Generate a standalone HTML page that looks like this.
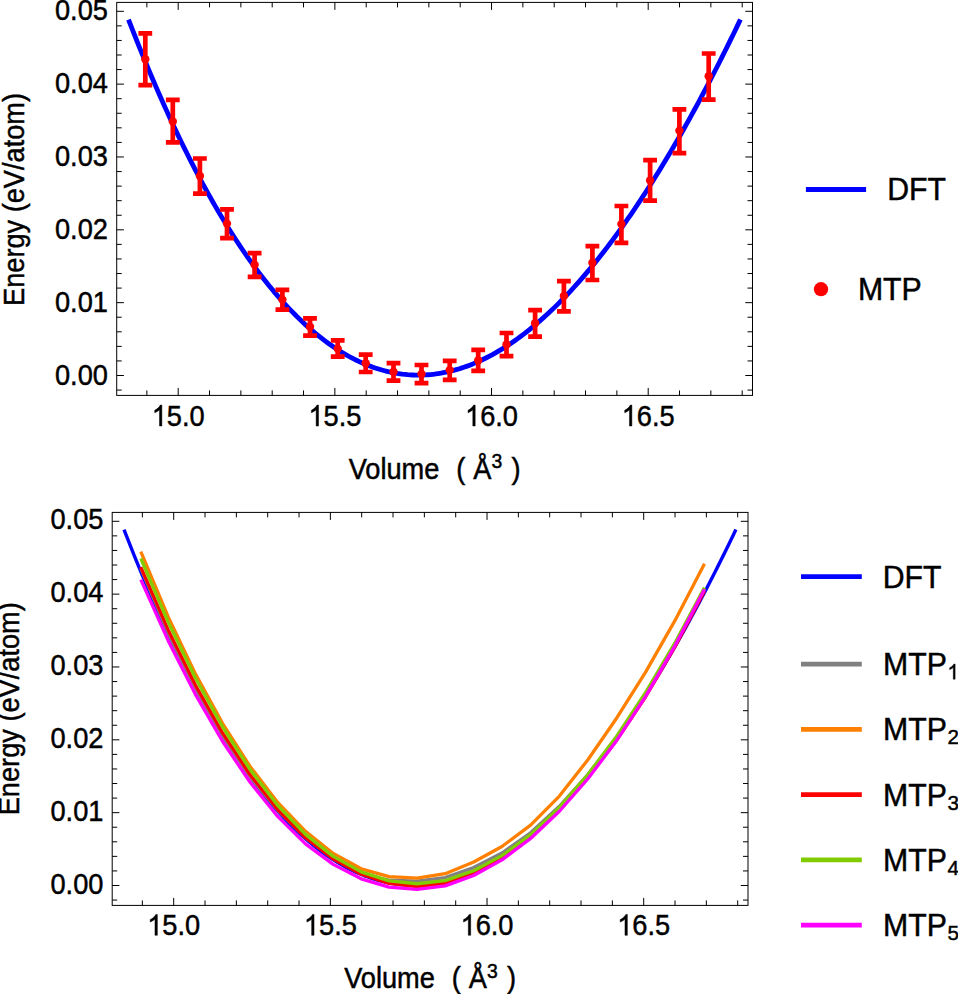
<!DOCTYPE html>
<html><head><meta charset="utf-8"><style>
html,body{margin:0;padding:0;background:#fff;overflow:hidden}
svg{display:block}
</style></head><body>
<svg width="958" height="994" viewBox="0 0 958 994" font-family='"Liberation Sans", sans-serif' fill="#000">
<rect width="958" height="994" fill="#fff"/>
<g>
<rect x="116.7" y="2.4" width="635.80" height="393.00" fill="none" stroke="#000" stroke-width="1"/>
<path d="M146.87,395.4v-5.0M146.87,2.4v5.0M178.20,395.4v-7.5M178.20,2.4v7.5M209.53,395.4v-5.0M209.53,2.4v5.0M240.87,395.4v-5.0M240.87,2.4v5.0M272.20,395.4v-5.0M272.20,2.4v5.0M303.53,395.4v-5.0M303.53,2.4v5.0M334.87,395.4v-7.5M334.87,2.4v7.5M366.20,395.4v-5.0M366.20,2.4v5.0M397.53,395.4v-5.0M397.53,2.4v5.0M428.86,395.4v-5.0M428.86,2.4v5.0M460.20,395.4v-5.0M460.20,2.4v5.0M491.53,395.4v-7.5M491.53,2.4v7.5M522.86,395.4v-5.0M522.86,2.4v5.0M554.20,395.4v-5.0M554.20,2.4v5.0M585.53,395.4v-5.0M585.53,2.4v5.0M616.86,395.4v-5.0M616.86,2.4v5.0M648.19,395.4v-7.5M648.19,2.4v7.5M679.53,395.4v-5.0M679.53,2.4v5.0M710.86,395.4v-5.0M710.86,2.4v5.0M742.19,395.4v-5.0M742.19,2.4v5.0M116.7,390.07h5.0M752.5,390.07h-5.0M116.7,375.50h7.2M752.5,375.50h-7.2M116.7,360.93h5.0M752.5,360.93h-5.0M116.7,346.36h5.0M752.5,346.36h-5.0M116.7,331.80h5.0M752.5,331.80h-5.0M116.7,317.23h5.0M752.5,317.23h-5.0M116.7,302.66h7.2M752.5,302.66h-7.2M116.7,288.09h5.0M752.5,288.09h-5.0M116.7,273.52h5.0M752.5,273.52h-5.0M116.7,258.96h5.0M752.5,258.96h-5.0M116.7,244.39h5.0M752.5,244.39h-5.0M116.7,229.82h7.2M752.5,229.82h-7.2M116.7,215.25h5.0M752.5,215.25h-5.0M116.7,200.68h5.0M752.5,200.68h-5.0M116.7,186.12h5.0M752.5,186.12h-5.0M116.7,171.55h5.0M752.5,171.55h-5.0M116.7,156.98h7.2M752.5,156.98h-7.2M116.7,142.41h5.0M752.5,142.41h-5.0M116.7,127.84h5.0M752.5,127.84h-5.0M116.7,113.28h5.0M752.5,113.28h-5.0M116.7,98.71h5.0M752.5,98.71h-5.0M116.7,84.14h7.2M752.5,84.14h-7.2M116.7,69.57h5.0M752.5,69.57h-5.0M116.7,55.00h5.0M752.5,55.00h-5.0M116.7,40.44h5.0M752.5,40.44h-5.0M116.7,25.87h5.0M752.5,25.87h-5.0M116.7,11.30h7.2M752.5,11.30h-7.2" stroke="#000" stroke-width="1" fill="none"/>
<g stroke="#000" stroke-width="0.45" transform="translate(0,0.0)">
<g transform="translate(107.90,384.70) scale(1,1.07)"><text x="0" y="0" font-size="27.2" text-anchor="end">0.00</text></g>
<g transform="translate(107.90,311.66) scale(1,1.07)"><text x="0" y="0" font-size="27.2" text-anchor="end">0.01</text></g>
<g transform="translate(107.90,238.62) scale(1,1.07)"><text x="0" y="0" font-size="27.2" text-anchor="end">0.02</text></g>
<g transform="translate(107.90,165.58) scale(1,1.07)"><text x="0" y="0" font-size="27.2" text-anchor="end">0.03</text></g>
<g transform="translate(107.90,92.54) scale(1,1.07)"><text x="0" y="0" font-size="27.2" text-anchor="end">0.04</text></g>
<g transform="translate(107.90,19.50) scale(1,1.07)"><text x="0" y="0" font-size="27.2" text-anchor="end">0.05</text></g>
<path transform="translate(151.73,426.00) scale(0.01328,-0.01421)" d="M763 0H583V1147Q518 1085 413 1023Q308 961 224 930V1104Q375 1175 488 1276Q601 1377 648 1472H763Z" stroke-width="33.9"/><g transform="translate(166.86,426.00) scale(1,1.07)"><text x="0" y="0" font-size="27.2">5.0</text></g>
<path transform="translate(308.40,426.00) scale(0.01328,-0.01421)" d="M763 0H583V1147Q518 1085 413 1023Q308 961 224 930V1104Q375 1175 488 1276Q601 1377 648 1472H763Z" stroke-width="33.9"/><g transform="translate(323.52,426.00) scale(1,1.07)"><text x="0" y="0" font-size="27.2">5.5</text></g>
<path transform="translate(465.06,426.00) scale(0.01328,-0.01421)" d="M763 0H583V1147Q518 1085 413 1023Q308 961 224 930V1104Q375 1175 488 1276Q601 1377 648 1472H763Z" stroke-width="33.9"/><g transform="translate(480.19,426.00) scale(1,1.07)"><text x="0" y="0" font-size="27.2">6.0</text></g>
<path transform="translate(621.73,426.00) scale(0.01328,-0.01421)" d="M763 0H583V1147Q518 1085 413 1023Q308 961 224 930V1104Q375 1175 488 1276Q601 1377 648 1472H763Z" stroke-width="33.9"/><g transform="translate(636.85,426.00) scale(1,1.07)"><text x="0" y="0" font-size="27.2">6.5</text></g>
<g transform="translate(23.7,306.0) rotate(-90) scale(1,1.07)"><text x="0" y="0" font-size="27.2">Energy (eV/atom)</text></g>
<g transform="translate(348.70,478.70) scale(1,1.07)"><text x="0" y="0" font-size="27.2" text-anchor="start">Volume</text></g>
<g transform="translate(456.20,478.70) scale(1,1.07)"><text x="0" y="0" font-size="27.2" text-anchor="start">(</text></g>
<g transform="translate(473.20,478.70) scale(1,1.07)"><text x="0" y="0" font-size="27.2" text-anchor="start">&#197;</text></g>
<g transform="translate(491.40,468.30) scale(1,1.07)"><text x="0" y="0" font-size="19.4" text-anchor="start">3</text></g>
<g transform="translate(511.50,478.70) scale(1,1.07)"><text x="0" y="0" font-size="27.2" text-anchor="start">)</text></g>
</g>
<polyline points="128.50,19.59 131.06,26.17 133.62,32.69 136.18,39.15 138.74,45.53 141.30,51.85 143.86,58.10 146.42,64.29 148.98,70.40 151.54,76.45 154.10,82.44 156.66,88.36 159.22,94.21 161.78,100.00 164.34,105.72 166.90,111.37 169.46,116.97 172.02,122.49 174.58,127.95 177.14,133.35 179.71,138.68 182.27,143.95 184.83,149.15 187.39,154.29 189.95,159.36 192.51,164.37 195.07,169.32 197.63,174.21 200.19,179.03 202.75,183.79 205.31,188.48 207.87,193.12 210.43,197.69 212.99,202.19 215.55,206.64 218.11,211.02 220.67,215.35 223.23,219.61 225.79,223.81 228.35,227.94 230.91,232.02 233.47,236.04 236.03,239.99 238.59,243.89 241.15,247.72 243.71,251.49 246.27,255.21 248.83,258.86 251.39,262.46 253.95,265.99 256.51,269.46 259.07,272.88 261.63,276.24 264.19,279.53 266.75,282.77 269.31,285.95 271.87,289.07 274.43,292.13 276.99,295.14 279.55,298.08 282.12,300.97 284.68,303.80 287.24,306.58 289.80,309.29 292.36,311.95 294.92,314.55 297.48,317.10 300.04,319.58 302.60,322.01 305.16,324.39 307.72,326.71 310.28,328.97 312.84,331.17 315.40,333.32 317.96,335.42 320.52,337.45 323.08,339.44 325.64,341.37 328.20,343.24 330.76,345.05 333.32,346.82 335.88,348.52 338.44,350.18 341.00,351.78 343.56,353.32 346.12,354.81 348.68,356.25 351.24,357.63 353.80,358.96 356.36,360.23 358.92,361.46 361.48,362.62 364.04,363.74 366.60,364.80 369.16,365.81 371.72,366.77 374.28,367.67 376.84,368.52 379.40,369.32 381.96,370.07 384.53,370.77 387.09,371.41 389.65,372.00 392.21,372.54 394.77,373.03 397.33,373.47 399.89,373.85 402.45,374.19 405.01,374.47 407.57,374.71 410.13,374.89 412.69,375.02 415.25,375.10 417.81,375.14 420.37,375.12 422.93,375.05 425.49,374.93 428.05,374.76 430.61,374.55 433.17,374.28 435.73,373.97 438.29,373.60 440.85,373.19 443.41,372.72 445.97,372.21 448.53,371.65 451.09,371.04 453.65,370.39 456.21,369.68 458.77,368.93 461.33,368.13 463.89,367.28 466.45,366.38 469.01,365.43 471.57,364.44 474.13,363.40 476.69,362.32 479.25,361.18 481.81,360.00 484.37,358.77 486.94,357.50 489.50,356.18 492.06,354.81 494.62,353.40 497.18,351.94 499.74,350.43 502.30,348.88 504.86,347.28 507.42,345.64 509.98,343.95 512.54,342.21 515.10,340.43 517.66,338.61 520.22,336.74 522.78,334.82 525.34,332.86 527.90,330.86 530.46,328.81 533.02,326.71 535.58,324.58 538.14,322.39 540.70,320.17 543.26,317.89 545.82,315.58 548.38,313.22 550.94,310.82 553.50,308.37 556.06,305.88 558.62,303.35 561.18,300.77 563.74,298.15 566.30,295.49 568.86,292.79 571.42,290.04 573.98,287.25 576.54,284.42 579.10,281.54 581.66,278.62 584.22,275.66 586.78,272.66 589.35,269.62 591.91,266.53 594.47,263.40 597.03,260.23 599.59,257.02 602.15,253.77 604.71,250.47 607.27,247.14 609.83,243.76 612.39,240.35 614.95,236.89 617.51,233.39 620.07,229.85 622.63,226.27 625.19,222.65 627.75,218.99 630.31,215.29 632.87,211.55 635.43,207.77 637.99,203.95 640.55,200.08 643.11,196.18 645.67,192.24 648.23,188.26 650.79,184.25 653.35,180.19 655.91,176.09 658.47,171.95 661.03,167.78 663.59,163.56 666.15,159.31 668.71,155.02 671.27,150.69 673.83,146.32 676.39,141.91 678.95,137.47 681.51,132.98 684.07,128.46 686.63,123.90 689.19,119.31 691.76,114.67 694.32,110.00 696.88,105.29 699.44,100.54 702.00,95.75 704.56,90.93 707.12,86.07 709.68,81.18 712.24,76.24 714.80,71.27 717.36,66.27 719.92,61.22 722.48,56.14 725.04,51.03 727.60,45.87 730.16,40.68 732.72,35.46 735.28,30.20 737.84,24.90 740.40,19.57" fill="none" stroke="#0000ff" stroke-width="4.8" stroke-linejoin="round"/>
<path d="M145.30,33.40V85.10M138.40,33.40h13.8M138.40,85.10h13.8M172.80,99.90V142.30M165.90,99.90h13.8M165.90,142.30h13.8M199.90,158.50V193.60M193.00,158.50h13.8M193.00,193.60h13.8M227.00,209.40V238.10M220.10,209.40h13.8M220.10,238.10h13.8M254.60,253.20V276.80M247.70,253.20h13.8M247.70,276.80h13.8M282.40,289.80V309.60M275.50,289.80h13.8M275.50,309.60h13.8M310.00,318.40V335.70M303.10,318.40h13.8M303.10,335.70h13.8M337.70,340.30V356.60M330.80,340.30h13.8M330.80,356.60h13.8M365.70,354.60V372.00M358.80,354.60h13.8M358.80,372.00h13.8M393.50,363.20V380.60M386.60,363.20h13.8M386.60,380.60h13.8M421.50,365.00V383.20M414.60,365.00h13.8M414.60,383.20h13.8M449.70,360.85V379.90M442.80,360.85h13.8M442.80,379.90h13.8M478.20,349.80V370.85M471.30,349.80h13.8M471.30,370.85h13.8M506.50,333.00V356.20M499.60,333.00h13.8M499.60,356.20h13.8M535.10,310.20V336.70M528.20,310.20h13.8M528.20,336.70h13.8M563.90,281.20V311.40M557.00,281.20h13.8M557.00,311.40h13.8M592.40,246.20V280.00M585.50,246.20h13.8M585.50,280.00h13.8M621.40,206.00V242.80M614.50,206.00h13.8M614.50,242.80h13.8M650.10,160.10V200.60M643.20,160.10h13.8M643.20,200.60h13.8M679.40,109.40V153.20M672.50,109.40h13.8M672.50,153.20h13.8M708.70,53.50V99.60M701.80,53.50h13.8M701.80,99.60h13.8" stroke="#f00" stroke-width="4.7" fill="none"/>
<circle cx="145.30" cy="59.24" r="4.2" fill="#f00"/>
<circle cx="172.80" cy="121.40" r="4.2" fill="#f00"/>
<circle cx="199.90" cy="176.00" r="4.2" fill="#f00"/>
<circle cx="227.00" cy="223.60" r="4.2" fill="#f00"/>
<circle cx="254.60" cy="264.70" r="4.2" fill="#f00"/>
<circle cx="282.40" cy="299.60" r="4.2" fill="#f00"/>
<circle cx="310.00" cy="326.70" r="4.2" fill="#f00"/>
<circle cx="337.70" cy="348.60" r="4.2" fill="#f00"/>
<circle cx="365.70" cy="363.30" r="4.2" fill="#f00"/>
<circle cx="393.50" cy="371.70" r="4.2" fill="#f00"/>
<circle cx="421.50" cy="374.00" r="4.2" fill="#f00"/>
<circle cx="449.70" cy="370.10" r="4.2" fill="#f00"/>
<circle cx="478.20" cy="360.35" r="4.2" fill="#f00"/>
<circle cx="506.50" cy="344.50" r="4.2" fill="#f00"/>
<circle cx="535.10" cy="323.20" r="4.2" fill="#f00"/>
<circle cx="563.90" cy="296.00" r="4.2" fill="#f00"/>
<circle cx="592.40" cy="262.80" r="4.2" fill="#f00"/>
<circle cx="621.40" cy="224.10" r="4.2" fill="#f00"/>
<circle cx="650.10" cy="180.40" r="4.2" fill="#f00"/>
<circle cx="679.40" cy="130.60" r="4.2" fill="#f00"/>
<circle cx="708.70" cy="76.30" r="4.2" fill="#f00"/>
</g>
<line x1="805.9" y1="189.45" x2="866.1" y2="189.45" stroke="#0000ff" stroke-width="4.9"/>
<g stroke="#000" stroke-width="0.45">
<g transform="translate(887.20,200.00) scale(1,1.02)"><text x="0" y="0" font-size="30.25" text-anchor="start">DFT</text></g>
<g transform="translate(857.90,300.06) scale(1,1.02)"><text x="0" y="0" font-size="30.25" text-anchor="start">MTP</text></g>
</g>
<circle cx="821.0" cy="289.2" r="7.15" fill="#f00"/>
<g transform="translate(-4.5,510)">
<rect x="116.7" y="2.4" width="635.80" height="393.00" fill="none" stroke="#000" stroke-width="1"/>
<path d="M146.87,395.4v-5.0M146.87,2.4v5.0M178.20,395.4v-7.5M178.20,2.4v7.5M209.53,395.4v-5.0M209.53,2.4v5.0M240.87,395.4v-5.0M240.87,2.4v5.0M272.20,395.4v-5.0M272.20,2.4v5.0M303.53,395.4v-5.0M303.53,2.4v5.0M334.87,395.4v-7.5M334.87,2.4v7.5M366.20,395.4v-5.0M366.20,2.4v5.0M397.53,395.4v-5.0M397.53,2.4v5.0M428.86,395.4v-5.0M428.86,2.4v5.0M460.20,395.4v-5.0M460.20,2.4v5.0M491.53,395.4v-7.5M491.53,2.4v7.5M522.86,395.4v-5.0M522.86,2.4v5.0M554.20,395.4v-5.0M554.20,2.4v5.0M585.53,395.4v-5.0M585.53,2.4v5.0M616.86,395.4v-5.0M616.86,2.4v5.0M648.19,395.4v-7.5M648.19,2.4v7.5M679.53,395.4v-5.0M679.53,2.4v5.0M710.86,395.4v-5.0M710.86,2.4v5.0M742.19,395.4v-5.0M742.19,2.4v5.0M116.7,390.07h5.0M752.5,390.07h-5.0M116.7,375.50h7.2M752.5,375.50h-7.2M116.7,360.93h5.0M752.5,360.93h-5.0M116.7,346.36h5.0M752.5,346.36h-5.0M116.7,331.80h5.0M752.5,331.80h-5.0M116.7,317.23h5.0M752.5,317.23h-5.0M116.7,302.66h7.2M752.5,302.66h-7.2M116.7,288.09h5.0M752.5,288.09h-5.0M116.7,273.52h5.0M752.5,273.52h-5.0M116.7,258.96h5.0M752.5,258.96h-5.0M116.7,244.39h5.0M752.5,244.39h-5.0M116.7,229.82h7.2M752.5,229.82h-7.2M116.7,215.25h5.0M752.5,215.25h-5.0M116.7,200.68h5.0M752.5,200.68h-5.0M116.7,186.12h5.0M752.5,186.12h-5.0M116.7,171.55h5.0M752.5,171.55h-5.0M116.7,156.98h7.2M752.5,156.98h-7.2M116.7,142.41h5.0M752.5,142.41h-5.0M116.7,127.84h5.0M752.5,127.84h-5.0M116.7,113.28h5.0M752.5,113.28h-5.0M116.7,98.71h5.0M752.5,98.71h-5.0M116.7,84.14h7.2M752.5,84.14h-7.2M116.7,69.57h5.0M752.5,69.57h-5.0M116.7,55.00h5.0M752.5,55.00h-5.0M116.7,40.44h5.0M752.5,40.44h-5.0M116.7,25.87h5.0M752.5,25.87h-5.0M116.7,11.30h7.2M752.5,11.30h-7.2" stroke="#000" stroke-width="1" fill="none"/>
<g stroke="#000" stroke-width="0.45" transform="translate(0,-0.7)">
<g transform="translate(107.90,384.70) scale(1,1.07)"><text x="0" y="0" font-size="27.2" text-anchor="end">0.00</text></g>
<g transform="translate(107.90,311.66) scale(1,1.07)"><text x="0" y="0" font-size="27.2" text-anchor="end">0.01</text></g>
<g transform="translate(107.90,238.62) scale(1,1.07)"><text x="0" y="0" font-size="27.2" text-anchor="end">0.02</text></g>
<g transform="translate(107.90,165.58) scale(1,1.07)"><text x="0" y="0" font-size="27.2" text-anchor="end">0.03</text></g>
<g transform="translate(107.90,92.54) scale(1,1.07)"><text x="0" y="0" font-size="27.2" text-anchor="end">0.04</text></g>
<g transform="translate(107.90,19.50) scale(1,1.07)"><text x="0" y="0" font-size="27.2" text-anchor="end">0.05</text></g>
<path transform="translate(151.73,426.00) scale(0.01328,-0.01421)" d="M763 0H583V1147Q518 1085 413 1023Q308 961 224 930V1104Q375 1175 488 1276Q601 1377 648 1472H763Z" stroke-width="33.9"/><g transform="translate(166.86,426.00) scale(1,1.07)"><text x="0" y="0" font-size="27.2">5.0</text></g>
<path transform="translate(308.40,426.00) scale(0.01328,-0.01421)" d="M763 0H583V1147Q518 1085 413 1023Q308 961 224 930V1104Q375 1175 488 1276Q601 1377 648 1472H763Z" stroke-width="33.9"/><g transform="translate(323.52,426.00) scale(1,1.07)"><text x="0" y="0" font-size="27.2">5.5</text></g>
<path transform="translate(465.06,426.00) scale(0.01328,-0.01421)" d="M763 0H583V1147Q518 1085 413 1023Q308 961 224 930V1104Q375 1175 488 1276Q601 1377 648 1472H763Z" stroke-width="33.9"/><g transform="translate(480.19,426.00) scale(1,1.07)"><text x="0" y="0" font-size="27.2">6.0</text></g>
<path transform="translate(621.73,426.00) scale(0.01328,-0.01421)" d="M763 0H583V1147Q518 1085 413 1023Q308 961 224 930V1104Q375 1175 488 1276Q601 1377 648 1472H763Z" stroke-width="33.9"/><g transform="translate(636.85,426.00) scale(1,1.07)"><text x="0" y="0" font-size="27.2">6.5</text></g>
<g transform="translate(23.7,306.0) rotate(-90) scale(1,1.07)"><text x="0" y="0" font-size="27.2">Energy (eV/atom)</text></g>
<g transform="translate(348.70,478.70) scale(1,1.07)"><text x="0" y="0" font-size="27.2" text-anchor="start">Volume</text></g>
<g transform="translate(456.20,478.70) scale(1,1.07)"><text x="0" y="0" font-size="27.2" text-anchor="start">(</text></g>
<g transform="translate(473.20,478.70) scale(1,1.07)"><text x="0" y="0" font-size="27.2" text-anchor="start">&#197;</text></g>
<g transform="translate(491.40,468.30) scale(1,1.07)"><text x="0" y="0" font-size="19.4" text-anchor="start">3</text></g>
<g transform="translate(511.50,478.70) scale(1,1.07)"><text x="0" y="0" font-size="27.2" text-anchor="start">)</text></g>
</g>
<polyline points="128.50,19.59 131.06,26.17 133.62,32.69 136.18,39.15 138.74,45.53 141.30,51.85 143.86,58.10 146.42,64.29 148.98,70.40 151.54,76.45 154.10,82.44 156.66,88.36 159.22,94.21 161.78,100.00 164.34,105.72 166.90,111.37 169.46,116.97 172.02,122.49 174.58,127.95 177.14,133.35 179.71,138.68 182.27,143.95 184.83,149.15 187.39,154.29 189.95,159.36 192.51,164.37 195.07,169.32 197.63,174.21 200.19,179.03 202.75,183.79 205.31,188.48 207.87,193.12 210.43,197.69 212.99,202.19 215.55,206.64 218.11,211.02 220.67,215.35 223.23,219.61 225.79,223.81 228.35,227.94 230.91,232.02 233.47,236.04 236.03,239.99 238.59,243.89 241.15,247.72 243.71,251.49 246.27,255.21 248.83,258.86 251.39,262.46 253.95,265.99 256.51,269.46 259.07,272.88 261.63,276.24 264.19,279.53 266.75,282.77 269.31,285.95 271.87,289.07 274.43,292.13 276.99,295.14 279.55,298.08 282.12,300.97 284.68,303.80 287.24,306.58 289.80,309.29 292.36,311.95 294.92,314.55 297.48,317.10 300.04,319.58 302.60,322.01 305.16,324.39 307.72,326.71 310.28,328.97 312.84,331.17 315.40,333.32 317.96,335.42 320.52,337.45 323.08,339.44 325.64,341.37 328.20,343.24 330.76,345.05 333.32,346.82 335.88,348.52 338.44,350.18 341.00,351.78 343.56,353.32 346.12,354.81 348.68,356.25 351.24,357.63 353.80,358.96 356.36,360.23 358.92,361.46 361.48,362.62 364.04,363.74 366.60,364.80 369.16,365.81 371.72,366.77 374.28,367.67 376.84,368.52 379.40,369.32 381.96,370.07 384.53,370.77 387.09,371.41 389.65,372.00 392.21,372.54 394.77,373.03 397.33,373.47 399.89,373.85 402.45,374.19 405.01,374.47 407.57,374.71 410.13,374.89 412.69,375.02 415.25,375.10 417.81,375.14 420.37,375.12 422.93,375.05 425.49,374.93 428.05,374.76 430.61,374.55 433.17,374.28 435.73,373.97 438.29,373.60 440.85,373.19 443.41,372.72 445.97,372.21 448.53,371.65 451.09,371.04 453.65,370.39 456.21,369.68 458.77,368.93 461.33,368.13 463.89,367.28 466.45,366.38 469.01,365.43 471.57,364.44 474.13,363.40 476.69,362.32 479.25,361.18 481.81,360.00 484.37,358.77 486.94,357.50 489.50,356.18 492.06,354.81 494.62,353.40 497.18,351.94 499.74,350.43 502.30,348.88 504.86,347.28 507.42,345.64 509.98,343.95 512.54,342.21 515.10,340.43 517.66,338.61 520.22,336.74 522.78,334.82 525.34,332.86 527.90,330.86 530.46,328.81 533.02,326.71 535.58,324.58 538.14,322.39 540.70,320.17 543.26,317.89 545.82,315.58 548.38,313.22 550.94,310.82 553.50,308.37 556.06,305.88 558.62,303.35 561.18,300.77 563.74,298.15 566.30,295.49 568.86,292.79 571.42,290.04 573.98,287.25 576.54,284.42 579.10,281.54 581.66,278.62 584.22,275.66 586.78,272.66 589.35,269.62 591.91,266.53 594.47,263.40 597.03,260.23 599.59,257.02 602.15,253.77 604.71,250.47 607.27,247.14 609.83,243.76 612.39,240.35 614.95,236.89 617.51,233.39 620.07,229.85 622.63,226.27 625.19,222.65 627.75,218.99 630.31,215.29 632.87,211.55 635.43,207.77 637.99,203.95 640.55,200.08 643.11,196.18 645.67,192.24 648.23,188.26 650.79,184.25 653.35,180.19 655.91,176.09 658.47,171.95 661.03,167.78 663.59,163.56 666.15,159.31 668.71,155.02 671.27,150.69 673.83,146.32 676.39,141.91 678.95,137.47 681.51,132.98 684.07,128.46 686.63,123.90 689.19,119.31 691.76,114.67 694.32,110.00 696.88,105.29 699.44,100.54 702.00,95.75 704.56,90.93 707.12,86.07 709.68,81.18 712.24,76.24 714.80,71.27 717.36,66.27 719.92,61.22 722.48,56.14 725.04,51.03 727.60,45.87 730.16,40.68 732.72,35.46 735.28,30.20 737.84,24.90 740.40,19.57" fill="none" stroke="#0000ff" stroke-width="3.4" stroke-linejoin="round"/>
<polyline points="145.30,58.32 172.80,123.37 199.90,179.28 227.00,227.04 254.60,267.31 282.40,300.56 310.00,327.76 337.70,348.70 365.70,363.40 393.50,370.24 421.50,371.06 449.70,367.56 478.20,357.57 506.50,342.99 535.10,322.80 563.90,296.27 592.40,264.56 621.40,226.82 650.10,183.92 679.40,134.48 709.00,79.08" fill="none" stroke="#808080" stroke-width="3.3" stroke-linejoin="round"/>
<polyline points="145.30,41.73 172.80,107.09 199.90,163.91 227.00,213.38 254.60,256.51 282.40,292.66 310.00,321.41 337.70,343.57 365.70,358.80 393.50,366.68 421.50,368.16 449.70,363.66 478.20,351.97 506.50,336.48 535.10,315.18 563.90,286.06 592.40,249.73 621.40,207.73 650.10,162.10 679.40,110.64 709.00,53.83" fill="none" stroke="#ff8000" stroke-width="3.3" stroke-linejoin="round"/>
<polyline points="145.30,57.09 172.80,120.19 199.90,175.09 227.00,222.96 254.60,264.74 282.40,299.82 310.00,327.73 337.70,349.05 365.70,364.22 393.50,373.43 421.50,376.56 449.70,373.26 478.20,363.67 506.50,347.99 535.10,326.49 563.90,299.59 592.40,267.65 621.40,229.82 650.10,186.75 679.40,136.91 709.00,81.08" fill="none" stroke="#ff0000" stroke-width="3.3" stroke-linejoin="round"/>
<polyline points="145.30,48.50 172.80,112.36 199.90,168.06 227.00,216.77 254.60,259.56 282.40,295.66 310.00,324.35 337.70,346.36 365.70,361.92 393.50,370.90 421.50,373.76 449.70,370.66 478.20,360.77 506.50,345.59 535.10,324.59 563.90,297.34 592.40,264.61 621.40,225.92 650.10,182.49 679.40,132.91 709.00,77.63" fill="none" stroke="#80cc00" stroke-width="3.3" stroke-linejoin="round"/>
<polyline points="145.30,69.56 172.80,130.92 199.90,184.37 227.00,231.25 254.60,272.29 282.40,306.68 310.00,333.95 337.70,354.40 365.70,368.80 393.50,377.16 421.50,379.46 449.70,375.86 478.20,365.47 506.50,349.87 535.10,328.48 563.90,301.22 592.40,268.75 621.40,230.22 650.10,186.41 679.40,135.83 709.00,79.18" fill="none" stroke="#ff00ff" stroke-width="3.3" stroke-linejoin="round"/>
</g>
<line x1="801.0" y1="576.7" x2="861.8" y2="576.7" stroke="#0000ff" stroke-width="4.7"/>
<line x1="801.0" y1="664.10" x2="861.8" y2="664.10" stroke="#808080" stroke-width="4.7"/>
<line x1="801.0" y1="729.35" x2="861.8" y2="729.35" stroke="#ff8000" stroke-width="4.7"/>
<line x1="801.0" y1="794.60" x2="861.8" y2="794.60" stroke="#ff0000" stroke-width="4.7"/>
<line x1="801.0" y1="859.85" x2="861.8" y2="859.85" stroke="#80cc00" stroke-width="4.7"/>
<line x1="801.0" y1="925.10" x2="861.8" y2="925.10" stroke="#ff00ff" stroke-width="4.7"/>
<g stroke="#000" stroke-width="0.45">
<g transform="translate(882.65,587.70) scale(1,1.02)"><text x="0" y="0" font-size="30.25" text-anchor="start">DFT</text></g>
<g transform="translate(883.00,675.20) scale(1,1.02)"><text x="0" y="0" font-size="30.25" text-anchor="start">MTP</text></g>
<path transform="translate(947.40,679.20) scale(0.01011,-0.01031)" d="M763 0H583V1147Q518 1085 413 1023Q308 961 224 930V1104Q375 1175 488 1276Q601 1377 648 1472H763Z" stroke-width="44.5"/>
<g transform="translate(883.00,740.45) scale(1,1.02)"><text x="0" y="0" font-size="30.25" text-anchor="start">MTP</text></g>
<g transform="translate(947.40,744.45) scale(1,1.02)"><text x="0" y="0" font-size="20.7" text-anchor="start">2</text></g>
<g transform="translate(883.00,805.70) scale(1,1.02)"><text x="0" y="0" font-size="30.25" text-anchor="start">MTP</text></g>
<g transform="translate(947.40,809.70) scale(1,1.02)"><text x="0" y="0" font-size="20.7" text-anchor="start">3</text></g>
<g transform="translate(883.00,870.95) scale(1,1.02)"><text x="0" y="0" font-size="30.25" text-anchor="start">MTP</text></g>
<g transform="translate(947.40,874.95) scale(1,1.02)"><text x="0" y="0" font-size="20.7" text-anchor="start">4</text></g>
<g transform="translate(883.00,936.20) scale(1,1.02)"><text x="0" y="0" font-size="30.25" text-anchor="start">MTP</text></g>
<g transform="translate(947.40,940.20) scale(1,1.02)"><text x="0" y="0" font-size="20.7" text-anchor="start">5</text></g>
</g>
</svg>
</body></html>
